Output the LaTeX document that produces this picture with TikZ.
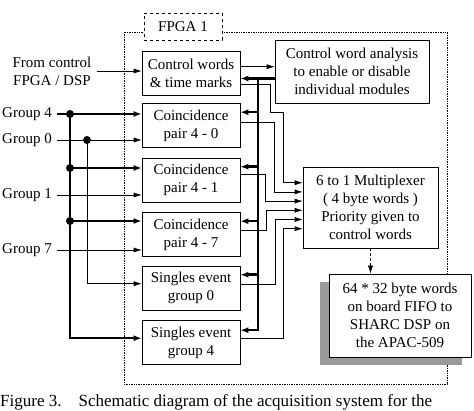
\documentclass[tikz,border=0pt]{standalone}
\usepackage{fontspec}
\setmainfont{Liberation Serif}
\usetikzlibrary{arrows.meta,calc}

\tikzstyle{block} = [draw, fill=white, line width=0.6pt, minimum width=98pt, minimum height=44pt, inner sep=1pt, align=center]
\tikzstyle{bus} = [draw, line width=2.6pt, -{Latex[length=8pt,width=6pt]}]
\tikzstyle{wire} = [draw, line width=0.6pt, -{Latex[length=8pt,width=5pt]}]
\tikzstyle{junction} = [circle, fill=black, minimum size=8pt, inner sep=0pt]
\tikzstyle{group name} = [anchor=east, inner sep=0pt]
\tikzstyle{frame} = [draw, densely dotted, line width=0.7pt]

\begin{document}
\begin{tikzpicture}[x=1pt, y=-1pt, font=\fontsize{15}{18}\selectfont]
    \clip (0,0) rectangle (474,411);

    % FPGA frame and the FIFO shadow
    \draw[frame] (124,32) rectangle (447,384);
    \fill[black!40] (320,282) rectangle (462,365);

    \foreach \pos/\name/\txt in {{(191,73)/cw/{Control words\\\& time marks}},
        {(191,125.5)/p40/{Coincidence\\pair 4 - 0}}, {(191,180)/p41/{Coincidence\\pair 4 - 1}},
        {(191,234.5)/p47/{Coincidence\\pair 4 - 7}}, {(191,288)/s0/{Singles event\\group 0}},
        {(191,342.5)/s4/{Singles event\\group 4}}}
    \node[block] (\name) at \pos {\txt};

    \node[block, dashed, minimum width=78pt, minimum height=27pt] (fpga) at (183,26.5) {FPGA 1};
    \node[block, minimum width=154pt, minimum height=63pt] (cwa) at (352,71.5)
        {Control word analysis\\to enable or disable\\individual modules};
    \node[block, minimum width=135pt, minimum height=81pt] (mux) at (370.5,207.5)
        {6 to 1 Multiplexer\\( 4 byte words )\\Priority given to\\control words};
    \node[block, minimum width=142pt, minimum height=83pt] (fifo) at (400,315.5)
        {64 * 32 byte words\\on board FIFO to\\SHARC DSP on\\the APAC-509};

    % inputs on the left
    \node[align=center, inner sep=0pt] (from) at (52,71) {From control\\FPGA / DSP};
    \draw[wire, shorten <=5pt] (from.east) -- (from.east -| cw.west);

    \foreach \y/\g in {114/4, 140/0, 195/1, 250/7}
    \node[group name] (g\g) at (52,\y) {Group \g};

    \node[junction] (j4a) at (70,114) {};
    \node[junction] (j4b) at (70,168) {};
    \node[junction] (j4c) at (70,221) {};
    \node[junction] (j0) at (87,140) {};

    \draw[bus, shorten <=5pt] (g4.east) -- (g4.east -| p40.west);
    \draw[bus] (j4a.center) |- ($(s4.north west)+(0,18)$);
    \draw[bus] (j4b.center) -- (j4b -| p41.west);
    \draw[bus] (j4c.center) -- (j4c -| p47.west);
    \draw[wire, shorten <=5pt] (g0.east) -- (g0.east -| p40.west);
    \draw[wire] (j0.center) |- ($(s0.north west)+(0,18)$);
    \foreach \g/\dest in {1/p41, 7/p47}
    \draw[wire, shorten <=5pt] (g\g.east) -- (g\g.east -| \dest.west);

    % control words and enable bus
    \coordinate (c1) at ($(cw.north east)+(0,16)$);
    \draw[wire] (c1) -- (c1 -| cwa.west);
    \coordinate (back) at ($(cwa.west)+(0,7)$);
    \draw[bus] (back) -- (back -| cw.east);
    \coordinate (bt) at (258,78.5);
    \draw[bus] (bt) |- ($(s4.north east)+(0,10)$);
    \foreach \name in {p40,p41,p47,s0} {
        \coordinate (t) at ($(\name.north east)+(0,9)$);
        \draw[bus] (t -| bt) -- (t);
    }

    % multiplexer inputs
    \foreach \k in {1,...,6}
    \coordinate (m\k) at ($(mux.north west)+(0,{16+(\k-1)*9.2})$);
    \draw[wire] ($(cw.north east)+(0,34)$) -| (270,112) -| (m1 -| 283,0) -- (m1);
    \foreach \src/\dy/\xx/\k in {p40/19/274/2, p41/17/265/3, p47/18/266/4, s0/19/275/5, s4/18/283/6}
    \draw[wire] ($(\src.north east)+(0,\dy)$) -| (m\k -| \xx,0) -- (m\k);

    \draw[wire, densely dashed] (mux.south) -- (mux.south |- fifo.north);

    \node[anchor=base west, inner sep=0pt, font=\fontsize{17}{20}\selectfont] (caption) at (0,406.5)
        {Figure 3.\quad Schematic diagram of the acquisition system for the};
\end{tikzpicture}
\end{document}
